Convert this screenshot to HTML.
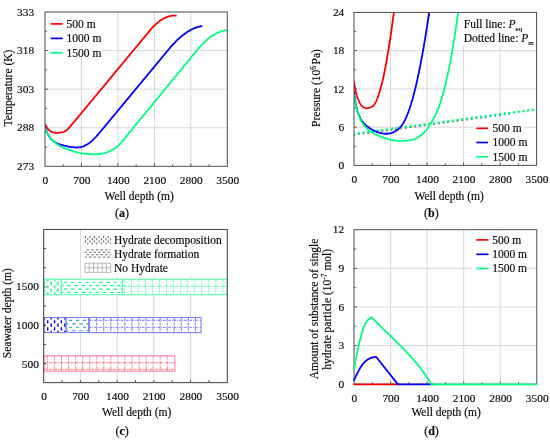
<!DOCTYPE html>
<html><head><meta charset="utf-8"><title>Figure</title>
<style>
html,body{margin:0;padding:0;background:#fff;}
body{width:550px;height:440px;overflow:hidden;}
svg{display:block;}
svg text{font-family:"Liberation Serif", "DejaVu Serif", serif;fill:#0c0c0c;stroke:#0c0c0c;stroke-width:0.18px;}
</style></head><body>
<svg width="550" height="440" viewBox="0 0 550 440">
<defs><clipPath id="ca"><rect x="45" y="11" width="183.3" height="156.3"/></clipPath><clipPath id="cb"><rect x="354" y="12.4" width="183.1" height="153"/></clipPath></defs>
<g clip-path="url(#ca)">
<path d="M81.46 12V166.3M117.92 12V166.3M154.38 12V166.3M190.84 12V166.3M45 50.58H227.3M45 89.15H227.3M45 127.73H227.3" stroke="#d0d0d0" stroke-width="0.85" fill="none"/>
</g>
<rect x="46" y="13" width="56" height="43.5" fill="#fff"/>
<path d="M50.7 23.9H62.8" stroke="#ff0000" stroke-width="1.7"/>
<text x="66.6" y="27.8" font-size="11.5" text-anchor="start">500 m</text>
<path d="M50.7 38.4H62.8" stroke="#0000ff" stroke-width="1.7"/>
<text x="66.6" y="42.3" font-size="11.5" text-anchor="start">1000 m</text>
<path d="M50.7 52.8H62.8" stroke="#00ff7f" stroke-width="1.7"/>
<text x="66.6" y="56.7" font-size="11.5" text-anchor="start">1500 m</text>
<path d="M63.23 166.3v-2.1M81.46 166.3v-3M99.69 166.3v-2.1M117.92 166.3v-3M136.15 166.3v-2.1M154.38 166.3v-3M172.61 166.3v-2.1M190.84 166.3v-3M209.07 166.3v-2.1M45 31.29h2.1M45 50.58h3M45 69.86h2.1M45 89.15h3M45 108.44h2.1M45 127.73h3M45 147.01h2.1" stroke="#4d4d4d" stroke-width="0.9" fill="none"/>
<g clip-path="url(#ca)">
<path d="M45 124.2L45.7 125.52L46.41 126.74L47.11 127.84L47.81 128.78L48.52 129.51L49.22 130.13L49.92 130.71L50.63 131.22L51.33 131.65L52.03 131.99L52.74 132.21L53.44 132.37L54.14 132.52L54.85 132.65L55.55 132.75L56.25 132.83L56.95 132.88L57.66 132.9L58.36 132.88L59.06 132.82L59.77 132.72L60.47 132.61L61.17 132.48L61.88 132.33L62.58 132.18L63.28 131.99L63.99 131.74L64.69 131.44L65.39 131.09L66.1 130.63L66.8 130.08L67.5 129.46L68.21 128.75L68.91 127.97L69.61 127.17L70.32 126.37L71.02 125.56L71.72 124.73L72.43 123.89L73.13 123.04L73.83 122.19L74.54 121.35L75.24 120.5L75.94 119.65L76.65 118.8L77.35 117.96L78.05 117.11L78.75 116.26L79.46 115.41L80.16 114.57L80.86 113.72L81.57 112.87L82.27 112.02L82.97 111.18L83.68 110.33L84.38 109.48L85.08 108.63L85.79 107.79L86.49 106.94L87.19 106.09L87.9 105.24L88.6 104.4L89.3 103.55L90.01 102.7L90.71 101.85L91.41 101.01L92.12 100.16L92.82 99.31L93.52 98.47L94.23 97.62L94.93 96.77L95.63 95.92L96.34 95.08L97.04 94.23L97.74 93.38L98.45 92.53L99.15 91.69L99.85 90.84L100.55 89.99L101.26 89.14L101.96 88.3L102.66 87.45L103.37 86.6L104.07 85.75L104.77 84.91L105.48 84.06L106.18 83.21L106.88 82.36L107.59 81.52L108.29 80.67L108.99 79.82L109.7 78.98L110.4 78.13L111.1 77.28L111.81 76.43L112.51 75.59L113.21 74.74L113.92 73.89L114.62 73.04L115.32 72.2L116.03 71.35L116.73 70.5L117.43 69.65L118.14 68.81L118.84 67.96L119.54 67.11L120.25 66.26L120.95 65.42L121.65 64.57L122.35 63.72L123.06 62.88L123.76 62.03L124.46 61.18L125.17 60.33L125.87 59.49L126.57 58.64L127.28 57.79L127.98 56.94L128.68 56.1L129.39 55.25L130.09 54.4L130.79 53.55L131.5 52.71L132.2 51.86L132.9 51.01L133.61 50.16L134.31 49.32L135.01 48.47L135.72 47.62L136.42 46.77L137.12 45.93L137.83 45.08L138.53 44.23L139.23 43.39L139.94 42.54L140.64 41.69L141.34 40.84L142.05 40L142.75 39.15L143.45 38.3L144.15 37.45L144.86 36.61L145.56 35.76L146.26 34.91L146.97 34.06L147.67 33.22L148.37 32.37L149.08 31.52L149.78 30.68L150.48 29.84L151.19 29.01L151.89 28.22L152.59 27.45L153.3 26.7L154 25.98L154.7 25.28L155.41 24.61L156.11 23.96L156.81 23.34L157.52 22.74L158.22 22.16L158.92 21.61L159.63 21.08L160.33 20.58L161.03 20.1L161.74 19.64L162.44 19.21L163.14 18.8L163.85 18.42L164.55 18.06L165.25 17.73L165.95 17.42L166.66 17.13L167.36 16.87L168.06 16.64L168.77 16.42L169.47 16.24L170.17 16.07L170.88 15.93L171.58 15.82L172.28 15.72L172.99 15.65L173.69 15.62L174.39 15.62L175.1 15.61L175.8 15.63" stroke="#ff0000" stroke-width="1.8" fill="none" stroke-linecap="round" stroke-linejoin="round"/>
<path d="M45 127L45.7 129.02L46.41 130.91L47.11 132.63L47.81 134.14L48.51 135.38L49.22 136.46L49.92 137.44L50.62 138.33L51.32 139.11L52.03 139.81L52.73 140.42L53.43 140.97L54.13 141.48L54.84 141.95L55.54 142.38L56.24 142.78L56.95 143.14L57.65 143.46L58.35 143.76L59.05 144.04L59.76 144.3L60.46 144.54L61.16 144.77L61.86 144.98L62.57 145.19L63.27 145.38L63.97 145.56L64.68 145.74L65.38 145.9L66.08 146.06L66.78 146.22L67.49 146.37L68.19 146.52L68.89 146.66L69.59 146.79L70.3 146.92L71 147.03L71.7 147.12L72.4 147.2L73.11 147.27L73.81 147.34L74.51 147.41L75.22 147.46L75.92 147.49L76.62 147.5L77.32 147.48L78.03 147.43L78.73 147.36L79.43 147.27L80.13 147.16L80.84 147.04L81.54 146.91L82.24 146.75L82.95 146.51L83.65 146.22L84.35 145.89L85.05 145.53L85.76 145.15L86.46 144.77L87.16 144.37L87.86 143.94L88.57 143.47L89.27 142.98L89.97 142.46L90.67 141.91L91.38 141.35L92.08 140.76L92.78 140.13L93.49 139.45L94.19 138.74L94.89 138L95.59 137.25L96.3 136.5L97 135.72L97.7 134.92L98.4 134.09L99.11 133.26L99.81 132.42L100.51 131.59L101.22 130.75L101.92 129.91L102.62 129.06L103.32 128.21L104.03 127.36L104.73 126.51L105.43 125.66L106.13 124.81L106.84 123.97L107.54 123.12L108.24 122.27L108.94 121.43L109.65 120.58L110.35 119.73L111.05 118.89L111.76 118.04L112.46 117.19L113.16 116.35L113.86 115.5L114.57 114.65L115.27 113.81L115.97 112.96L116.67 112.11L117.38 111.27L118.08 110.42L118.78 109.57L119.49 108.72L120.19 107.88L120.89 107.03L121.59 106.18L122.3 105.34L123 104.49L123.7 103.64L124.4 102.8L125.11 101.95L125.81 101.1L126.51 100.26L127.21 99.41L127.92 98.56L128.62 97.72L129.32 96.87L130.03 96.02L130.73 95.18L131.43 94.33L132.13 93.48L132.84 92.64L133.54 91.79L134.24 90.94L134.94 90.1L135.65 89.25L136.35 88.4L137.05 87.56L137.76 86.71L138.46 85.86L139.16 85.02L139.86 84.17L140.57 83.32L141.27 82.48L141.97 81.63L142.67 80.78L143.38 79.94L144.08 79.09L144.78 78.24L145.48 77.4L146.19 76.55L146.89 75.7L147.59 74.86L148.3 74.01L149 73.16L149.7 72.31L150.4 71.47L151.11 70.62L151.81 69.77L152.51 68.93L153.21 68.08L153.92 67.23L154.62 66.39L155.32 65.54L156.03 64.69L156.73 63.85L157.43 63L158.13 62.15L158.84 61.31L159.54 60.46L160.24 59.61L160.94 58.77L161.65 57.92L162.35 57.07L163.05 56.23L163.75 55.38L164.46 54.53L165.16 53.69L165.86 52.84L166.57 51.99L167.27 51.15L167.97 50.3L168.67 49.45L169.38 48.61L170.08 47.76L170.78 46.93L171.48 46.12L172.19 45.32L172.89 44.54L173.59 43.77L174.3 43.02L175 42.28L175.7 41.56L176.4 40.86L177.11 40.17L177.81 39.5L178.51 38.84L179.21 38.2L179.92 37.58L180.62 36.97L181.32 36.38L182.02 35.8L182.73 35.24L183.43 34.7L184.13 34.17L184.84 33.65L185.54 33.16L186.24 32.68L186.94 32.21L187.65 31.76L188.35 31.33L189.05 30.91L189.75 30.51L190.46 30.12L191.16 29.75L191.86 29.39L192.57 29.05L193.27 28.73L193.97 28.42L194.67 28.13L195.38 27.86L196.08 27.6L196.78 27.35L197.48 27.13L198.19 26.91L198.89 26.72L199.59 26.54L200.29 26.37L201 26.22L201.7 26.09" stroke="#0000ff" stroke-width="1.8" fill="none" stroke-linecap="round" stroke-linejoin="round"/>
<path d="M45 128L45.7 129.6L46.4 131.12L47.1 132.56L47.8 133.89L48.51 135.09L49.21 136.15L49.91 137.14L50.61 138.06L51.31 138.92L52.01 139.72L52.71 140.47L53.41 141.16L54.12 141.8L54.82 142.4L55.52 142.98L56.22 143.52L56.92 144.04L57.62 144.53L58.32 144.99L59.02 145.42L59.72 145.83L60.43 146.21L61.13 146.57L61.83 146.92L62.53 147.24L63.23 147.55L63.93 147.85L64.63 148.13L65.33 148.41L66.03 148.67L66.74 148.94L67.44 149.19L68.14 149.45L68.84 149.7L69.54 149.96L70.24 150.2L70.94 150.45L71.64 150.68L72.34 150.91L73.05 151.14L73.75 151.36L74.45 151.57L75.15 151.77L75.85 151.96L76.55 152.14L77.25 152.31L77.95 152.48L78.66 152.64L79.36 152.79L80.06 152.94L80.76 153.07L81.46 153.19L82.16 153.31L82.86 153.43L83.56 153.54L84.26 153.64L84.97 153.74L85.67 153.83L86.37 153.91L87.07 153.97L87.77 154.02L88.47 154.06L89.17 154.1L89.87 154.14L90.58 154.18L91.28 154.21L91.98 154.24L92.68 154.26L93.38 154.28L94.08 154.29L94.78 154.3L95.48 154.3L96.18 154.28L96.89 154.24L97.59 154.19L98.29 154.12L98.99 154.04L99.69 153.95L100.39 153.86L101.09 153.75L101.79 153.64L102.49 153.53L103.2 153.41L103.9 153.25L104.6 153.07L105.3 152.85L106 152.62L106.7 152.37L107.4 152.1L108.1 151.84L108.81 151.56L109.51 151.26L110.21 150.93L110.91 150.58L111.61 150.22L112.31 149.84L113.01 149.44L113.71 149.03L114.41 148.61L115.12 148.16L115.82 147.68L116.52 147.17L117.22 146.63L117.92 146.04L118.62 145.38L119.32 144.67L120.02 143.92L120.72 143.14L121.43 142.36L122.13 141.54L122.83 140.69L123.53 139.81L124.23 138.92L124.93 138.03L125.63 137.16L126.33 136.3L127.04 135.45L127.74 134.6L128.44 133.74L129.14 132.89L129.84 132.04L130.54 131.18L131.24 130.33L131.94 129.47L132.64 128.62L133.35 127.77L134.05 126.91L134.75 126.06L135.45 125.2L136.15 124.35L136.85 123.5L137.55 122.64L138.25 121.79L138.95 120.93L139.66 120.08L140.36 119.23L141.06 118.37L141.76 117.52L142.46 116.66L143.16 115.81L143.86 114.96L144.56 114.1L145.27 113.25L145.97 112.39L146.67 111.54L147.37 110.69L148.07 109.83L148.77 108.98L149.47 108.12L150.17 107.27L150.87 106.42L151.58 105.56L152.28 104.71L152.98 103.85L153.68 103L154.38 102.15L155.08 101.29L155.78 100.44L156.48 99.58L157.18 98.73L157.89 97.88L158.59 97.02L159.29 96.17L159.99 95.31L160.69 94.46L161.39 93.61L162.09 92.75L162.79 91.9L163.5 91.04L164.2 90.19L164.9 89.34L165.6 88.48L166.3 87.63L167 86.77L167.7 85.92L168.4 85.07L169.1 84.21L169.81 83.36L170.51 82.5L171.21 81.65L171.91 80.8L172.61 79.94L173.31 79.09L174.01 78.23L174.71 77.38L175.41 76.53L176.12 75.67L176.82 74.82L177.52 73.96L178.22 73.11L178.92 72.26L179.62 71.4L180.32 70.55L181.02 69.69L181.73 68.84L182.43 67.99L183.13 67.13L183.83 66.28L184.53 65.42L185.23 64.57L185.93 63.72L186.63 62.86L187.33 62.01L188.04 61.15L188.74 60.3L189.44 59.45L190.14 58.59L190.84 57.74L191.54 56.88L192.24 56.03L192.94 55.18L193.64 54.32L194.35 53.47L195.05 52.61L195.75 51.76L196.45 50.9L197.15 50.05L197.85 49.21L198.55 48.38L199.25 47.56L199.96 46.77L200.66 45.99L201.36 45.23L202.06 44.5L202.76 43.77L203.46 43.07L204.16 42.39L204.86 41.72L205.56 41.08L206.27 40.45L206.97 39.84L207.67 39.24L208.37 38.67L209.07 38.11L209.77 37.58L210.47 37.06L211.17 36.56L211.87 36.08L212.58 35.61L213.28 35.16L213.98 34.74L214.68 34.33L215.38 33.94L216.08 33.57L216.78 33.21L217.48 32.87L218.19 32.56L218.89 32.26L219.59 31.98L220.29 31.72L220.99 31.47L221.69 31.24L222.39 31.04L223.09 30.85L223.79 30.68L224.5 30.52L225.2 30.39L225.9 30.27L226.6 30.18L227.3 30.1" stroke="#00ff7f" stroke-width="1.8" fill="none" stroke-linecap="round" stroke-linejoin="round"/>
</g>
<rect x="45" y="12" width="182.3" height="154.3" fill="none" stroke="#4d4d4d" stroke-width="1"/>
<text x="45.4" y="184.1" font-size="11.4" text-anchor="middle">0</text>
<text x="81.86" y="184.1" font-size="11.4" text-anchor="middle">700</text>
<text x="118.32" y="184.1" font-size="11.4" text-anchor="middle">1400</text>
<text x="154.78" y="184.1" font-size="11.4" text-anchor="middle">2100</text>
<text x="191.24" y="184.1" font-size="11.4" text-anchor="middle">2800</text>
<text x="227.7" y="184.1" font-size="11.4" text-anchor="middle">3500</text>
<text x="34.2" y="15.7" font-size="11.4" text-anchor="end">333</text>
<text x="34.2" y="54.28" font-size="11.4" text-anchor="end">318</text>
<text x="34.2" y="92.85" font-size="11.4" text-anchor="end">303</text>
<text x="34.2" y="131.43" font-size="11.4" text-anchor="end">288</text>
<text x="34.2" y="170" font-size="11.4" text-anchor="end">273</text>
<text x="139.2" y="199.5" font-size="11.5" text-anchor="middle">Well depth (m)</text>
<text transform="translate(11.6 88) rotate(-90)" font-size="11.5" text-anchor="middle">Temperature (K)</text>
<text x="122.1" y="217.3" font-size="12" text-anchor="middle">(<tspan font-weight="bold">a</tspan>)</text>
<path d="M390.52 12.4V165.4M427.04 12.4V165.4M463.56 12.4V165.4M500.08 12.4V165.4M354 50.65H536.6M354 88.9H536.6M354 127.15H536.6" stroke="#d0d0d0" stroke-width="0.85" fill="none"/>
<rect x="462" y="13" width="74" height="33" fill="#fff"/>
<text x="463.8" y="27.9" font-size="11.5">Full line: <tspan font-style="italic">P</tspan><tspan font-size="7" dy="2.8">eq</tspan></text>
<text x="463.8" y="41.7" font-size="11.5">Dotted line: <tspan font-style="italic">P</tspan><tspan font-size="7" dy="2.8">m</tspan></text>
<rect x="474" y="121" width="50" height="43.5" fill="#fff"/>
<path d="M476.3 128.3H488" stroke="#ff0000" stroke-width="1.7"/>
<text x="492.5" y="132.2" font-size="11.5" text-anchor="start">500 m</text>
<path d="M476.3 142.5H488" stroke="#0000ff" stroke-width="1.7"/>
<text x="492.5" y="146.4" font-size="11.5" text-anchor="start">1000 m</text>
<path d="M476.3 156.8H488" stroke="#00ff7f" stroke-width="1.7"/>
<text x="492.5" y="160.7" font-size="11.5" text-anchor="start">1500 m</text>
<g clip-path="url(#cb)">
<path d="M354 134.75 L510.51 113.62" stroke="#0000ff" stroke-width="1.7" fill="none" stroke-linecap="round" stroke-dasharray="0.01 4.74"/>
<path d="M354 134.85 L484.43 117.24" stroke="#ff0000" stroke-width="1.6" fill="none" stroke-linecap="round" stroke-dasharray="0.01 4.74"/>
<path d="M354 134 L536.2 109.41" stroke="#00ff7f" stroke-width="2.6" fill="none" stroke-linecap="round" stroke-dasharray="0.01 4.74"/>
</g>
<path d="M372.26 165.4v-2.1M390.52 165.4v-3M408.78 165.4v-2.1M427.04 165.4v-3M445.3 165.4v-2.1M463.56 165.4v-3M481.82 165.4v-2.1M500.08 165.4v-3M518.34 165.4v-2.1M354 31.52h2.1M354 50.65h3M354 69.78h2.1M354 88.9h3M354 108.03h2.1M354 127.15h3M354 146.28h2.1" stroke="#4d4d4d" stroke-width="0.9" fill="none"/>
<g clip-path="url(#cb)">
<path d="M354 81.77L354.13 82.56L354.26 83.35L354.4 84.15L354.54 84.94L354.68 85.73L354.82 86.52L354.97 87.32L355.12 88.11L355.27 88.9L355.43 89.69L355.59 90.47L355.76 91.26L355.93 92.05L356.12 92.83L356.3 93.61L356.5 94.39L356.71 95.17L356.94 95.94L357.18 96.71L357.45 97.47L357.73 98.22L358.02 98.97L358.32 99.72L358.62 100.47L358.94 101.21L359.27 101.94L359.62 102.67L359.99 103.38L360.39 104.08L360.83 104.75L361.33 105.38L361.92 105.93L362.54 106.44L363.18 106.93L363.86 107.37L364.57 107.74L365.32 108.04L366.1 108.23L366.9 108.3L367.7 108.23L368.48 108.05L369.25 107.8L369.99 107.5L370.73 107.17L371.46 106.83L372.16 106.44L372.82 105.97L373.43 105.45L374 104.88L374.52 104.27L374.97 103.6L375.38 102.91L375.77 102.21L376.14 101.49L376.48 100.76L376.79 100.02L377.09 99.27L377.37 98.52L377.64 97.76L377.9 97L378.16 96.23L378.41 95.47L378.66 94.7L378.9 93.94L379.15 93.17L379.39 92.4L379.63 91.63L379.86 90.86L380.09 90.09L380.31 89.32L380.53 88.54L380.74 87.77L380.95 86.99L381.16 86.21L381.36 85.43L381.56 84.65L381.76 83.87L381.95 83.09L382.15 82.31L382.34 81.53L382.53 80.75L382.71 79.97L382.9 79.18L383.08 78.4L383.26 77.61L383.43 76.83L383.61 76.04L383.78 75.26L383.95 74.47L384.11 73.68L384.28 72.89L384.44 72.11L384.6 71.32L384.76 70.53L384.92 69.74L385.08 68.95L385.23 68.16L385.39 67.37L385.54 66.58L385.69 65.79L385.84 65L385.99 64.21L386.13 63.42L386.28 62.62L386.42 61.83L386.57 61.04L386.71 60.25L386.85 59.45L386.99 58.66L387.12 57.87L387.26 57.08L387.4 56.28L387.53 55.49L387.66 54.7L387.8 53.9L387.93 53.11L388.06 52.31L388.19 51.52L388.32 50.73L388.45 49.93L388.58 49.14L388.7 48.34L388.83 47.55L388.95 46.75L389.08 45.96L389.2 45.16L389.33 44.37L389.45 43.57L389.57 42.77L389.69 41.98L389.81 41.18L389.93 40.39L390.05 39.59L390.17 38.8L390.29 38L390.4 37.2L390.52 36.41L390.64 35.61L390.75 34.81L390.87 34.02L390.98 33.22L391.1 32.42L391.21 31.63L391.33 30.83L391.44 30.03L391.55 29.24L391.66 28.44L391.78 27.64L391.89 26.85L392 26.05L392.11 25.25L392.22 24.45L392.33 23.66L392.44 22.86L392.55 22.06L392.66 21.27L392.77 20.47L392.88 19.67L392.99 18.87L393.1 18.08L393.2 17.28L393.31 16.48L393.42 15.68L393.53 14.89L393.63 14.09L393.74 13.29L393.85 12.49L393.95 11.69L394.06 10.9L394.17 10.1L394.27 9.3L394.38 8.5L394.48 7.7L394.58 6.91L394.69 6.11L394.79 5.31L394.89 4.51" stroke="#ff0000" stroke-width="1.8" fill="none" stroke-linecap="round" stroke-linejoin="round"/>
<path d="M354 92.01L354.09 92.81L354.2 93.61L354.31 94.41L354.41 95.2L354.53 96L354.64 96.79L354.75 97.59L354.87 98.38L354.99 99.18L355.12 99.97L355.24 100.77L355.37 101.56L355.51 102.35L355.65 103.15L355.79 103.94L355.94 104.73L356.09 105.52L356.25 106.31L356.42 107.09L356.59 107.88L356.78 108.66L356.98 109.44L357.19 110.21L357.42 110.98L357.66 111.75L357.92 112.51L358.18 113.27L358.46 114.03L358.75 114.78L359.05 115.52L359.37 116.26L359.7 116.99L360.06 117.71L360.43 118.43L360.82 119.13L361.24 119.81L361.69 120.48L362.16 121.13L362.65 121.77L363.15 122.4L363.67 123.02L364.2 123.61L364.76 124.2L365.33 124.76L365.92 125.31L366.53 125.83L367.16 126.34L367.8 126.82L368.45 127.29L369.11 127.75L369.78 128.19L370.46 128.62L371.15 129.04L371.85 129.44L372.55 129.82L373.27 130.19L373.99 130.55L374.72 130.89L375.45 131.22L376.19 131.54L376.93 131.84L377.68 132.13L378.44 132.39L379.21 132.64L379.98 132.85L380.77 133.04L381.55 133.2L382.34 133.34L383.14 133.48L383.93 133.6L384.73 133.69L385.53 133.75L386.34 133.76L387.14 133.73L387.94 133.66L388.74 133.57L389.54 133.45L390.33 133.33L391.12 133.19L391.89 132.95L392.63 132.65L393.35 132.29L394.06 131.91L394.76 131.51L395.46 131.11L396.15 130.7L396.82 130.25L397.46 129.78L398.09 129.27L398.7 128.74L399.28 128.19L399.85 127.63L400.4 127.04L400.94 126.44L401.45 125.82L401.93 125.18L402.39 124.52L402.83 123.84L403.25 123.15L403.65 122.46L404.04 121.76L404.42 121.05L404.79 120.34L405.16 119.62L405.51 118.9L405.86 118.17L406.19 117.44L406.51 116.7L406.82 115.96L407.13 115.22L407.43 114.47L407.72 113.72L408.01 112.97L408.29 112.22L408.56 111.46L408.83 110.71L409.1 109.95L409.37 109.19L409.63 108.43L409.89 107.67L410.14 106.9L410.39 106.14L410.63 105.37L410.88 104.61L411.11 103.84L411.35 103.07L411.58 102.3L411.81 101.53L412.03 100.76L412.26 99.98L412.48 99.21L412.69 98.44L412.91 97.66L413.12 96.89L413.33 96.11L413.54 95.33L413.75 94.56L413.95 93.78L414.15 93L414.35 92.22L414.55 91.44L414.75 90.66L414.94 89.88L415.14 89.1L415.33 88.32L415.52 87.54L415.71 86.76L415.89 85.98L416.08 85.19L416.26 84.41L416.44 83.63L416.62 82.84L416.8 82.06L416.98 81.28L417.15 80.49L417.33 79.71L417.5 78.92L417.67 78.14L417.84 77.35L418.01 76.57L418.18 75.78L418.35 74.99L418.52 74.21L418.68 73.42L418.84 72.63L419.01 71.84L419.17 71.06L419.33 70.27L419.49 69.48L419.65 68.69L419.81 67.9L419.96 67.12L420.12 66.33L420.27 65.54L420.43 64.75L420.58 63.96L420.73 63.17L420.88 62.38L421.04 61.59L421.19 60.8L421.33 60.01L421.48 59.22L421.63 58.43L421.78 57.64L421.92 56.85L422.07 56.06L422.21 55.27L422.36 54.48L422.5 53.69L422.64 52.89L422.79 52.1L422.93 51.31L423.07 50.52L423.21 49.73L423.35 48.94L423.49 48.14L423.62 47.35L423.76 46.56L423.9 45.77L424.03 44.97L424.17 44.18L424.31 43.39L424.44 42.6L424.57 41.8L424.71 41.01L424.84 40.22L424.97 39.43L425.11 38.63L425.24 37.84L425.37 37.05L425.5 36.25L425.63 35.46L425.76 34.67L425.89 33.87L426.02 33.08L426.15 32.28L426.27 31.49L426.4 30.7L426.53 29.9L426.65 29.11L426.78 28.31L426.91 27.52L427.03 26.73L427.16 25.93L427.28 25.14L427.41 24.34L427.53 23.55L427.65 22.75L427.78 21.96L427.9 21.17L428.02 20.37L428.14 19.58L428.27 18.78L428.39 17.99L428.51 17.19L428.63 16.4L428.75 15.6L428.87 14.81L428.99 14.01L429.11 13.22L429.22 12.42L429.33 11.62L429.43 10.83L429.54 10.03L429.65 9.23L429.75 8.44L429.86 7.64L429.97 6.84L430.07 6.04L430.17 5.25L430.28 4.45" stroke="#0000ff" stroke-width="1.8" fill="none" stroke-linecap="round" stroke-linejoin="round"/>
<path d="M354 95.37L354.13 96.17L354.26 96.96L354.39 97.75L354.53 98.54L354.67 99.33L354.81 100.12L354.95 100.91L355.1 101.7L355.25 102.49L355.41 103.28L355.57 104.07L355.73 104.85L355.9 105.64L356.07 106.42L356.25 107.21L356.43 107.99L356.62 108.77L356.82 109.55L357.03 110.32L357.24 111.1L357.47 111.87L357.71 112.63L357.96 113.4L358.22 114.16L358.49 114.91L358.77 115.66L359.07 116.41L359.37 117.15L359.68 117.89L360.01 118.63L360.35 119.35L360.71 120.07L361.08 120.79L361.46 121.49L361.86 122.19L362.28 122.87L362.72 123.54L363.18 124.2L363.66 124.85L364.15 125.49L364.65 126.11L365.18 126.72L365.71 127.32L366.27 127.9L366.83 128.47L367.42 129.02L368.02 129.55L368.64 130.06L369.28 130.55L369.93 131.02L370.59 131.47L371.27 131.91L371.95 132.33L372.65 132.73L373.35 133.12L374.06 133.49L374.77 133.86L375.49 134.21L376.22 134.56L376.94 134.91L377.67 135.25L378.4 135.59L379.13 135.92L379.87 136.24L380.61 136.55L381.35 136.86L382.09 137.15L382.85 137.44L383.6 137.72L384.36 137.98L385.12 138.23L385.89 138.46L386.66 138.69L387.43 138.91L388.21 139.11L388.99 139.31L389.77 139.49L390.56 139.65L391.35 139.81L392.13 139.96L392.92 140.11L393.72 140.24L394.51 140.37L395.3 140.47L396.1 140.56L396.9 140.62L397.7 140.68L398.51 140.74L399.31 140.79L400.11 140.83L400.91 140.87L401.71 140.89L402.52 140.91L403.32 140.92L404.12 140.92L404.93 140.9L405.73 140.85L406.53 140.78L407.33 140.69L408.12 140.58L408.91 140.45L409.7 140.31L410.49 140.16L411.28 139.99L412.06 139.82L412.84 139.61L413.6 139.36L414.35 139.07L415.09 138.75L415.82 138.41L416.54 138.06L417.25 137.69L417.95 137.3L418.64 136.89L419.32 136.45L419.97 135.99L420.62 135.51L421.25 135.02L421.87 134.51L422.49 133.99L423.09 133.46L423.69 132.92L424.27 132.37L424.84 131.8L425.39 131.22L425.93 130.63L426.45 130.02L426.96 129.4L427.44 128.75L427.91 128.1L428.36 127.43L428.79 126.76L429.22 126.08L429.64 125.4L430.06 124.71L430.48 124.03L430.9 123.34L431.3 122.64L431.69 121.94L432.08 121.24L432.47 120.54L432.85 119.83L433.23 119.12L433.61 118.41L433.98 117.7L434.36 116.99L434.74 116.29L435.11 115.57L435.48 114.86L435.84 114.14L436.2 113.42L436.54 112.7L436.88 111.97L437.21 111.24L437.52 110.5L437.83 109.76L438.13 109.01L438.42 108.26L438.71 107.51L438.99 106.76L439.26 106.01L439.53 105.25L439.79 104.49L440.05 103.73L440.3 102.97L440.55 102.2L440.79 101.44L441.03 100.67L441.27 99.9L441.5 99.13L441.73 98.36L441.96 97.59L442.18 96.82L442.4 96.05L442.62 95.28L442.83 94.5L443.04 93.73L443.26 92.95L443.46 92.18L443.67 91.4L443.87 90.62L444.08 89.85L444.28 89.07L444.48 88.29L444.68 87.51L444.87 86.74L445.07 85.96L445.26 85.18L445.45 84.4L445.64 83.62L445.83 82.83L446.01 82.05L446.2 81.27L446.38 80.49L446.56 79.71L446.74 78.92L446.92 78.14L447.1 77.36L447.27 76.57L447.45 75.79L447.62 75.01L447.79 74.22L447.96 73.44L448.13 72.65L448.3 71.87L448.46 71.08L448.63 70.29L448.79 69.51L448.95 68.72L449.11 67.94L449.27 67.15L449.43 66.36L449.59 65.57L449.75 64.79L449.9 64L450.05 63.21L450.21 62.42L450.36 61.63L450.51 60.84L450.66 60.05L450.8 59.26L450.95 58.47L451.1 57.69L451.24 56.9L451.39 56.1L451.53 55.31L451.67 54.52L451.81 53.73L451.95 52.94L452.09 52.15L452.23 51.36L452.36 50.57L452.5 49.78L452.63 48.99L452.77 48.19L452.9 47.4L453.03 46.61L453.16 45.82L453.29 45.02L453.42 44.23L453.55 43.44L453.68 42.65L453.8 41.85L453.93 41.06L454.05 40.27L454.18 39.47L454.3 38.68L454.42 37.89L454.55 37.09L454.67 36.3L454.79 35.5L454.91 34.71L455.02 33.92L455.14 33.12L455.26 32.33L455.37 31.53L455.49 30.74L455.6 29.94L455.72 29.15L455.83 28.35L455.94 27.56L456.06 26.76L456.17 25.97L456.28 25.17L456.39 24.38L456.5 23.58L456.6 22.78L456.71 21.99L456.82 21.19L456.92 20.4L457.03 19.6L457.14 18.8L457.24 18.01L457.34 17.21L457.45 16.41L457.55 15.62L457.65 14.82L457.75 14.02L457.85 13.23L457.96 12.43L458.07 11.64L458.17 10.84L458.28 10.04L458.39 9.25L458.49 8.45L458.6 7.66L458.7 6.86L458.8 6.06L458.91 5.27L459.01 4.47" stroke="#00ff7f" stroke-width="1.8" fill="none" stroke-linecap="round" stroke-linejoin="round"/>
</g>
<rect x="354" y="12.4" width="182.6" height="153" fill="none" stroke="#4d4d4d" stroke-width="1"/>
<text x="354.4" y="182.7" font-size="11.4" text-anchor="middle">0</text>
<text x="390.92" y="182.7" font-size="11.4" text-anchor="middle">700</text>
<text x="427.44" y="182.7" font-size="11.4" text-anchor="middle">1400</text>
<text x="463.96" y="182.7" font-size="11.4" text-anchor="middle">2100</text>
<text x="500.48" y="182.7" font-size="11.4" text-anchor="middle">2800</text>
<text x="537" y="182.7" font-size="11.4" text-anchor="middle">3500</text>
<text x="344.3" y="16.1" font-size="11.4" text-anchor="end">24</text>
<text x="344.3" y="54.35" font-size="11.4" text-anchor="end">18</text>
<text x="344.3" y="92.6" font-size="11.4" text-anchor="end">12</text>
<text x="344.3" y="130.85" font-size="11.4" text-anchor="end">6</text>
<text x="344.3" y="169.1" font-size="11.4" text-anchor="end">0</text>
<text x="449.2" y="199.5" font-size="11.5" text-anchor="middle">Well depth (m)</text>
<text transform="translate(319.6 88) rotate(-90)" font-size="11.5" text-anchor="middle">Pressure (10<tspan font-size="7.5" dy="-4">6</tspan><tspan dy="4" dx="-1.3"> Pa)</tspan></text>
<text x="431.4" y="217" font-size="12" text-anchor="middle">(<tspan font-weight="bold">b</tspan>)</text>
<path d="M80.42 229.5V382.6M117.14 229.5V382.6M153.86 229.5V382.6M190.58 229.5V382.6" stroke="#d0d0d0" stroke-width="0.85" fill="none"/>
<rect x="43.7" y="279.3" width="183.6" height="15.4" fill="#fff" stroke="none"/>
<path d="M47.72 279.3V294.7M54.56 279.3V294.7" stroke="#00ff7f" stroke-width="1.45" fill="none" stroke-dasharray="3.1 4" stroke-dashoffset="-5.9"/>
<path d="M44.3 279.3V294.7M51.14 279.3V294.7M57.98 279.3V294.7" stroke="#00ff7f" stroke-width="1.45" fill="none" stroke-dasharray="3.1 4" stroke-dashoffset="-2.25"/>
<rect x="43.9" y="279.3" width="17.37" height="15.4" fill="none" stroke="#55ffaa" stroke-width="1.1"/>
<path d="M61.27 282.2H121.79M61.27 289.1H121.79" stroke="#00ff7f" stroke-width="1.1" fill="none" stroke-dasharray="3.3 3.8" stroke-dashoffset="-2.8"/>
<path d="M61.27 285.65H121.79M61.27 292.55H121.79" stroke="#00ff7f" stroke-width="1.1" fill="none" stroke-dasharray="3.3 3.8" stroke-dashoffset="-6.2"/>
<rect x="61.27" y="279.3" width="61.11" height="15.4" fill="none" stroke="#55ffaa" stroke-width="1.1"/>
<path d="M124.2 279.3V294.7M131.25 279.3V294.7M138.3 279.3V294.7M145.35 279.3V294.7M152.4 279.3V294.7M159.45 279.3V294.7M166.5 279.3V294.7M173.55 279.3V294.7M180.6 279.3V294.7M187.65 279.3V294.7M194.7 279.3V294.7M201.75 279.3V294.7M208.8 279.3V294.7M215.85 279.3V294.7M222.9 279.3V294.7M122.39 286.3H227.3" stroke="#3dff9e" stroke-width="0.85" fill="none" stroke-dasharray="2.6 0.9 0.9 0.9"/>
<rect x="122.39" y="279.3" width="104.91" height="15.4" fill="none" stroke="#55ffaa" stroke-width="1.1"/>
<rect x="43.7" y="317.5" width="157.37" height="15.1" fill="#fff" stroke="none"/>
<path d="M47.72 317.5V332.6M54.56 317.5V332.6M61.4 317.5V332.6" stroke="#0000ff" stroke-width="1.45" fill="none" stroke-dasharray="3.1 4" stroke-dashoffset="-2.7"/>
<path d="M44.3 317.5V332.6M51.14 317.5V332.6M57.98 317.5V332.6M64.82 317.5V332.6" stroke="#0000ff" stroke-width="1.45" fill="none" stroke-dasharray="3.1 4" stroke-dashoffset="1"/>
<rect x="43.9" y="317.5" width="22.09" height="15.1" fill="none" stroke="#7d7dff" stroke-width="1.1"/>
<path d="M65.99 320.4H88.21M65.99 327.3H88.21" stroke="#2f9fd0" stroke-width="1.1" fill="none" stroke-dasharray="3.3 3.8" stroke-dashoffset="-2.8"/>
<path d="M65.99 323.85H88.21M65.99 330.75H88.21" stroke="#2f9fd0" stroke-width="1.1" fill="none" stroke-dasharray="3.3 3.8" stroke-dashoffset="-6.2"/>
<rect x="65.99" y="317.5" width="22.82" height="15.1" fill="none" stroke="#7d7dff" stroke-width="1.1"/>
<path d="M89.6 317.5V332.6M96.65 317.5V332.6M103.7 317.5V332.6M110.75 317.5V332.6M117.8 317.5V332.6M124.85 317.5V332.6M131.9 317.5V332.6M138.95 317.5V332.6M146 317.5V332.6M153.05 317.5V332.6M160.1 317.5V332.6M167.15 317.5V332.6M174.2 317.5V332.6M181.25 317.5V332.6M188.3 317.5V332.6M195.35 317.5V332.6M88.81 320.3H201.07M88.81 327.3H201.07" stroke="#5c5cff" stroke-width="0.85" fill="none" stroke-dasharray="2.6 0.9 0.9 0.9"/>
<rect x="88.81" y="317.5" width="112.26" height="15.1" fill="none" stroke="#7d7dff" stroke-width="1.1"/>
<rect x="43.7" y="355.8" width="131.14" height="15.4" fill="#fff" stroke="none"/>
<path d="M47.4 355.8V371.2M54.45 355.8V371.2M61.5 355.8V371.2M68.55 355.8V371.2M75.6 355.8V371.2M82.65 355.8V371.2M89.7 355.8V371.2M96.75 355.8V371.2M103.8 355.8V371.2M110.85 355.8V371.2M117.9 355.8V371.2M124.95 355.8V371.2M132 355.8V371.2M139.05 355.8V371.2M146.1 355.8V371.2M153.15 355.8V371.2M160.2 355.8V371.2M167.25 355.8V371.2M43.9 362.7H174.84M43.9 369.4H174.84" stroke="#ff5f5f" stroke-width="0.85" fill="none" stroke-dasharray="2.6 0.9 0.9 0.9"/>
<rect x="43.9" y="355.8" width="130.94" height="15.4" fill="none" stroke="#ff7fb2" stroke-width="1.1"/>
<rect x="83" y="230.5" width="142" height="45.5" fill="#fff"/>
<path d="M85.5 235.6V244.4M90.04 235.6V244.4M94.58 235.6V244.4M99.12 235.6V244.4M103.66 235.6V244.4M108.2 235.6V244.4" stroke="#5a5a5a" stroke-width="0.95" fill="none" stroke-dasharray="2.2 2.3" stroke-dashoffset="-0.3"/>
<path d="M87.77 235.6V244.4M92.31 235.6V244.4M96.85 235.6V244.4M101.39 235.6V244.4M105.93 235.6V244.4M110.47 235.6V244.4" stroke="#5a5a5a" stroke-width="0.95" fill="none" stroke-dasharray="2.2 2.3" stroke-dashoffset="-2.5"/>
<path d="M84.9 249.9H110.7M84.9 254.7H110.7" stroke="#5a5a5a" stroke-width="0.95" fill="none" stroke-dasharray="2.4 2.2" stroke-dashoffset="-1.8"/>
<path d="M84.9 252.3H110.7M84.9 257.1H110.7" stroke="#5a5a5a" stroke-width="0.95" fill="none" stroke-dasharray="2.4 2.2" stroke-dashoffset="0.5"/>
<path d="M84.9 263.2V272.4M89.2 263.2V272.4M93.5 263.2V272.4M97.8 263.2V272.4M102.1 263.2V272.4M106.4 263.2V272.4M110.7 263.2V272.4M84.9 263.2H110.7M84.9 267.8H110.7M84.9 272.4H110.7" stroke="#a8a8a8" stroke-width="0.8" fill="none"/>
<text x="114" y="243.6" font-size="11.5" text-anchor="start">Hydrate decomposition</text>
<text x="114" y="257.9" font-size="11.5" text-anchor="start">Hydrate formation</text>
<text x="114" y="272.3" font-size="11.5" text-anchor="start">No Hydrate</text>
<path d="M62.06 382.6v-2.4M80.42 382.6v-2.4M98.78 382.6v-2.4M117.14 382.6v-2.4M135.5 382.6v-2.4M153.86 382.6v-2.4M172.22 382.6v-2.4M190.58 382.6v-2.4M208.94 382.6v-2.4M43.7 248.5h2.4M43.7 267.7h2.4M43.7 286.9h2.4M43.7 306.1h2.4M43.7 325.3h2.4M43.7 344.5h2.4M43.7 363.7h2.4" stroke="#4d4d4d" stroke-width="1" fill="none"/>
<rect x="43.7" y="229.5" width="183.6" height="153.1" fill="none" stroke="#4d4d4d" stroke-width="1.1"/>
<text x="44" y="399.7" font-size="11.4" text-anchor="middle">0</text>
<text x="80.72" y="399.7" font-size="11.4" text-anchor="middle">700</text>
<text x="117.44" y="399.7" font-size="11.4" text-anchor="middle">1400</text>
<text x="154.16" y="399.7" font-size="11.4" text-anchor="middle">2100</text>
<text x="190.88" y="399.7" font-size="11.4" text-anchor="middle">2800</text>
<text x="227.6" y="399.7" font-size="11.4" text-anchor="middle">3500</text>
<text x="38.9" y="289.5" font-size="11.4" text-anchor="end">1500</text>
<text x="38.9" y="329.2" font-size="11.4" text-anchor="end">1000</text>
<text x="38.9" y="367.5" font-size="11.4" text-anchor="end">500</text>
<text x="136.7" y="416" font-size="11.5" text-anchor="middle">Well depth (m)</text>
<text transform="translate(11.2 313.2) rotate(-90)" font-size="11.5" text-anchor="middle">Seawater depth (m)</text>
<text x="122.1" y="435.4" font-size="12" text-anchor="middle">(<tspan font-weight="bold">c</tspan>)</text>
<path d="M390.56 229.7V384.2M427.12 229.7V384.2M463.68 229.7V384.2M500.24 229.7V384.2M354 268.32H536.8M354 306.95H536.8M354 345.57H536.8" stroke="#d0d0d0" stroke-width="0.85" fill="none"/>
<rect x="472" y="231" width="55" height="41" fill="#fff"/>
<path d="M476.3 239.9H488.5" stroke="#ff0000" stroke-width="1.7"/>
<text x="492.2" y="243.8" font-size="11.5" text-anchor="start">500 m</text>
<path d="M476.3 254.3H488.5" stroke="#0000ff" stroke-width="1.7"/>
<text x="492.2" y="258.2" font-size="11.5" text-anchor="start">1000 m</text>
<path d="M476.3 268.5H488.5" stroke="#00ff7f" stroke-width="1.7"/>
<text x="492.2" y="272.4" font-size="11.5" text-anchor="start">1500 m</text>
<path d="M372.28 384.2v-2.1M390.56 384.2v-3M408.84 384.2v-2.1M427.12 384.2v-3M445.4 384.2v-2.1M463.68 384.2v-3M481.96 384.2v-2.1M500.24 384.2v-3M518.52 384.2v-2.1M354 249.01h2.1M354 268.32h3M354 287.64h2.1M354 306.95h3M354 326.26h2.1M354 345.57h3M354 364.89h2.1" stroke="#4d4d4d" stroke-width="0.9" fill="none"/>
<rect x="354" y="229.7" width="182.8" height="154.5" fill="none" stroke="#4d4d4d" stroke-width="1"/>
<path d="M354.4 384.4L399 384.4" stroke="#ff0000" stroke-width="1.8" fill="none" stroke-linecap="round" stroke-linejoin="round"/>
<path d="M354 380.2L354.72 378.66L355.43 377.15L356.15 375.67L356.86 374.24L357.58 372.84L358.3 371.45L359.01 370.08L359.73 368.75L360.45 367.52L361.16 366.41L361.88 365.37L362.59 364.39L363.31 363.49L364.03 362.68L364.74 361.96L365.46 361.28L366.17 360.66L366.89 360.11L367.61 359.63L368.32 359.19L369.04 358.78L369.75 358.4L370.47 358.06L371.19 357.79L371.9 357.57L372.62 357.4L373.34 357.26L374.05 357.15L374.77 357.08L375.48 357.03L376.2 357L398 384.4L432.5 384.4" stroke="#0000ff" stroke-width="1.8" fill="none" stroke-linecap="round" stroke-linejoin="round"/>
<path d="M354 369.3L354.71 364.79L355.42 360.81L356.14 357.33L356.85 353.92L357.56 350.5L358.27 347.19L358.98 344.09L359.7 341.17L360.41 338.41L361.12 335.81L361.83 333.29L362.54 330.9L363.26 328.73L363.97 326.86L364.68 325.13L365.39 323.57L366.1 322.26L366.82 321.21L367.53 320.31L368.24 319.55L368.95 318.91L369.66 318.4L370.38 317.99L371.09 317.69L371.8 317.5L371.8 317.5L372.86 318.59L373.92 319.68L374.98 320.77L376.05 321.85L377.12 322.93L378.2 324.01L379.28 325.08L380.37 326.16L381.46 327.23L382.55 328.29L383.64 329.36L384.73 330.43L385.83 331.49L386.92 332.55L388.02 333.62L389.12 334.68L390.21 335.74L391.31 336.81L392.41 337.87L393.5 338.94L394.59 340.01L395.68 341.08L396.77 342.15L397.86 343.22L398.94 344.3L400.02 345.38L401.1 346.46L402.17 347.55L403.24 348.63L404.3 349.73L405.36 350.83L406.41 351.93L407.46 353.04L408.5 354.15L409.53 355.27L410.56 356.39L411.57 357.52L412.59 358.66L413.59 359.8L414.58 360.95L415.57 362.11L416.55 363.27L417.51 364.44L418.47 365.62L419.42 366.81L420.35 368.01L421.28 369.22L422.19 370.43L423.1 371.66L423.99 372.89L424.87 374.14L425.73 375.39L426.58 376.66L427.42 377.94L428.25 379.23L429.06 380.53L429.85 381.84L430.63 383.17L431.4 384.5L536.4 384.4" stroke="#00ff7f" stroke-width="1.8" fill="none" stroke-linecap="round" stroke-linejoin="round"/>
<text x="354.4" y="401.6" font-size="11.4" text-anchor="middle">0</text>
<text x="390.96" y="401.6" font-size="11.4" text-anchor="middle">700</text>
<text x="427.52" y="401.6" font-size="11.4" text-anchor="middle">1400</text>
<text x="464.08" y="401.6" font-size="11.4" text-anchor="middle">2100</text>
<text x="500.64" y="401.6" font-size="11.4" text-anchor="middle">2800</text>
<text x="537.2" y="401.6" font-size="11.4" text-anchor="middle">3500</text>
<text x="344.2" y="233.4" font-size="11.4" text-anchor="end">12</text>
<text x="344.2" y="272.02" font-size="11.4" text-anchor="end">9</text>
<text x="344.2" y="310.65" font-size="11.4" text-anchor="end">6</text>
<text x="344.2" y="349.27" font-size="11.4" text-anchor="end">3</text>
<text x="344.2" y="387.9" font-size="11.4" text-anchor="end">0</text>
<text x="446.1" y="416" font-size="11.5" text-anchor="middle">Well depth (m)</text>
<text transform="translate(318 309) rotate(-90)" font-size="11.5" text-anchor="middle">Amount of substance of single</text>
<text transform="translate(330.8 309.3) rotate(-90)" font-size="11.5" text-anchor="middle">hydrate particle (10<tspan font-size="7.5" dy="-4">-7</tspan><tspan dy="4"> mol)</tspan></text>
<text x="431.5" y="435.2" font-size="12" text-anchor="middle">(<tspan font-weight="bold">d</tspan>)</text>
</svg>
</body></html>
